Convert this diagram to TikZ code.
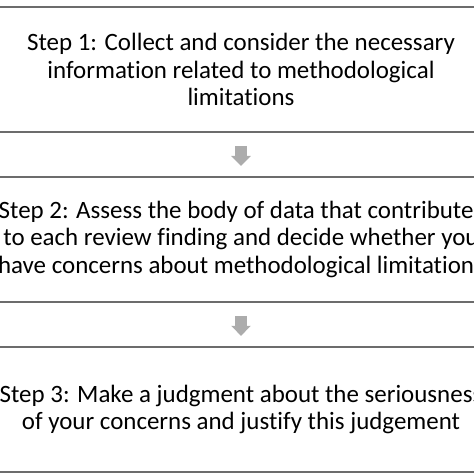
\documentclass[tikz,border=0pt]{standalone}
\usepackage{fontspec}
\setmainfont{Carlito}[Ligatures=NoCommon]
\usetikzlibrary{positioning}
\usetikzlibrary{arrows.meta}

\begin{document}
\begin{tikzpicture}[x=0.02cm,y=-0.02cm,
  stepbox/.style={draw=gray!85!black, line width=1.1pt, rectangle,
    minimum width=11.6cm, minimum height=2.5cm, align=center,
    font=\fontsize{14.2}{15.5}\selectfont, inner sep=0pt},
  flow/.style={draw=gray!65, line width=6.3pt,
    -{Triangle[length=0.2cm,width=0.38cm]},
    shorten <=0.26cm, shorten >=0.2cm}]
		\useasboundingbox (0,0) rectangle (474,474);
		\node (s1) [stepbox] at (241,69.5) {Step 1: Collect and consider the necessary\\information related to methodological\\limitations};
		\node (s2) [stepbox, below=0.86cm of s1] {Step 2: Assess the body of data that contributes\\to each review finding and decide whether you\\have concerns about methodological limitations};
		\node (s3) [stepbox, below=0.86cm of s2] {Step 3: Make a judgment about the seriousness\\of your concerns and justify this judgement};
		\draw[flow] (s1) -- (s2);
		\draw[flow] (s2) -- (s3);
\end{tikzpicture}
\end{document}
